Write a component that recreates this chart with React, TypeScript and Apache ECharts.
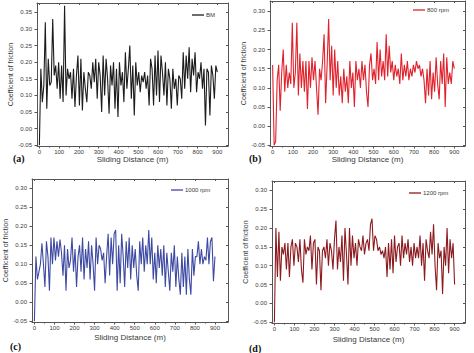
import React, { useEffect, useRef } from "react";
import * as echarts from "echarts";

// Sampling step along the sliding distance (m)
const STEP_M = 7.5;

// Coefficient of friction readings (one every STEP_M metres, 0..900 m)
const BM = [
  -0.05, 0.18, 0.08, 0.13, 0.32, 0.06, 0.21, 0.13, 0.14, 0.33,
  0.16, 0.19, 0.12, 0.2, 0.09, 0.19, 0.08, 0.37, 0.1, 0.18,
  0.15, 0.17, 0.09, 0.18, 0.065, 0.16, 0.22, 0.07, 0.21, 0.055,
  0.17, 0.12, 0.08, 0.17, 0.16, 0.12, 0.2, 0.14, 0.21, 0.09,
  0.2, 0.16, 0.05, 0.22, 0.1, 0.21, 0.15, 0.045, 0.19, 0.13,
  0.2, 0.06, 0.18, 0.035, 0.2, 0.13, 0.17, 0.08, 0.23, 0.12,
  0.18, 0.25, 0.09, 0.19, 0.04, 0.2, 0.13, 0.17, 0.11, 0.16,
  0.14, 0.17, 0.12, 0.16, 0.07, 0.21, 0.18, 0.07, 0.22, 0.1,
  0.235, 0.08, 0.22, 0.17, 0.1, 0.2, 0.07, 0.18, 0.15, 0.06,
  0.18, 0.12, 0.15, 0.07, 0.16, 0.15, 0.09, 0.23, 0.12, 0.22,
  0.15, 0.245, 0.11, 0.21, 0.16, 0.23, 0.11, 0.17, 0.15, 0.2,
  0.12, 0.18, 0.01, 0.18, 0.17, 0.04, 0.19, 0.16, 0.09, 0.19,
  0.17,
];

const RPM800 = [
  0.16, -0.05, -0.04, 0.12, 0.16, 0.04, 0.14, 0.2, 0.09, 0.16,
  0.1, 0.14, 0.11, 0.27, 0.1, 0.14, 0.27, 0.08, 0.19, 0.1,
  0.17, 0.09, 0.17, 0.045, 0.17, 0.1, 0.18, 0.12, 0.17, 0.1,
  0.03, 0.15, 0.12, 0.17, 0.24, 0.06, 0.16, 0.28, 0.12, 0.21,
  0.08, 0.2, 0.1, 0.17, 0.08, 0.13, 0.06, 0.15, 0.09, 0.13,
  0.06, 0.17, 0.1, 0.14, 0.05, 0.17, 0.12, 0.15, 0.1, 0.17,
  0.12, 0.16, 0.09, 0.05, 0.16, 0.19, 0.12, 0.15, 0.11, 0.22,
  0.12, 0.2, 0.13, 0.17, 0.12, 0.24, 0.13, 0.21, 0.14, 0.17,
  0.12, 0.16, 0.13, 0.15, 0.11, 0.19, 0.12, 0.16, 0.13, 0.17,
  0.12, 0.15, 0.13, 0.16, 0.14, 0.17, 0.15, 0.16, 0.13, 0.15,
  0.12, 0.06, 0.15, 0.08, 0.17, 0.07, 0.14, 0.09, 0.18, 0.11,
  0.07, 0.17, 0.11, 0.19, 0.05, 0.18, 0.11, 0.14, 0.11, 0.17,
  0.15,
];

const RPM1000 = [
  -0.05, 0.12, 0.06, 0.08, 0.1, 0.155, 0.1, 0.04, 0.16, 0.12,
  0.03, 0.17, 0.1, 0.17, 0.11, 0.16, 0.12, 0.165, 0.13, 0.07,
  0.15, 0.03, 0.14, 0.09, 0.11, 0.17, 0.08, 0.14, 0.04, 0.12,
  0.15, 0.08, 0.17, 0.06, 0.14, 0.09, 0.16, 0.06, 0.15, 0.1,
  0.03, 0.17, 0.1, 0.15, 0.14, 0.11, 0.13, 0.05, 0.12, 0.18,
  0.07, 0.17, 0.1, 0.18, 0.19, 0.03, 0.15, 0.05, 0.18, 0.12,
  0.04, 0.16, 0.09, 0.17, 0.06, 0.15, 0.09, 0.14, 0.07, 0.03,
  0.16, 0.1, 0.17, 0.08, 0.15, 0.1, 0.19, 0.1, 0.17, 0.06,
  0.13, 0.05, 0.15, 0.09, 0.14, 0.07, 0.15, 0.04, 0.13, 0.08,
  0.03, 0.13, 0.08, 0.15, 0.04, 0.12, 0.06, 0.02, 0.13, 0.04,
  0.12, 0.02, 0.14, 0.06, 0.02, 0.14, 0.07, 0.12, 0.12, 0.16,
  0.1, 0.14, 0.1, 0.12, 0.11, 0.17, 0.1, 0.16, 0.17, 0.055,
  0.12,
];

const RPM1200 = [
  -0.05, 0.2, 0.07, 0.19, 0.06, 0.15, 0.13, 0.16, 0.09, 0.16,
  0.07, 0.15, 0.17, 0.1, 0.16, 0.15, 0.11, 0.17, 0.09, 0.055,
  0.17, 0.13, 0.15, 0.14, 0.18, 0.09, 0.16, 0.17, 0.05, 0.15,
  0.14, 0.035, 0.14, 0.15, 0.12, 0.17, 0.1, 0.16, 0.14, 0.09,
  0.17, 0.22, 0.09, 0.15, 0.11, 0.18, 0.06, 0.2, 0.13, 0.05,
  0.2, 0.1, 0.18, 0.12, 0.16, 0.1, 0.17, 0.15, 0.14, 0.18,
  0.13, 0.16, 0.17, 0.14, 0.21, 0.225, 0.14, 0.18, 0.17, 0.14,
  0.15, 0.13, 0.14, 0.12, 0.15, 0.07, 0.16, 0.09, 0.17, 0.08,
  0.18, 0.11, 0.15, 0.16, 0.1, 0.18, 0.12, 0.16, 0.13, 0.17,
  0.11, 0.15, 0.1, 0.16, 0.12, 0.15, 0.12, 0.18, 0.1, 0.16,
  0.06, 0.17, 0.14, 0.12, 0.19, 0.13, 0.21, 0.1, 0.035, 0.16,
  0.12, 0.14, 0.025, 0.15, 0.1, 0.2, 0.08, 0.17, 0.12, 0.16,
  0.05,
];

const SERIES_NAMES = ["BM", "800 rpm", "1000 rpm", "1200 rpm"];
const PANEL_TAGS = ["(a)", "(b)", "(c)", "(d)"];
const X_TICKS = [0, 100, 200, 300, 400, 500, 600, 700, 800, 900];
const X_MINOR_TICKS = [50, 150, 250, 350, 450, 550, 650, 750, 850];
const Y_TICKS_A = [-0.05, 0, 0.05, 0.1, 0.15, 0.2, 0.25, 0.3, 0.35];
const Y_TICKS = [-0.05, 0, 0.05, 0.1, 0.15, 0.2, 0.25, 0.3];
const X_TITLE = "Sliding Distance (m)";
const Y_TITLE = "Coefficient of friction";

const COLORS = ["#1c1c1c", "#e0222c", "#3e4aa2", "#8c1b20"];

// legend: [line start x, centre y]
const LAYOUT = [
  { left: 37, top: 3, width: 191, height: 143, xMin: -12, xMax: 954, yMin: -0.052, yMax: 0.378, xGap: 8, legend: [192, 15], tag: [13, 159] },
  { left: 270, top: 1, width: 195, height: 145, xMin: -13, xMax: 953, yMin: -0.052, yMax: 0.327, xGap: 8, legend: [413, 10], tag: [249, 159] },
  { left: 32, top: 179, width: 196, height: 143, xMin: -12, xMax: 965, yMin: -0.052, yMax: 0.324, xGap: 11, legend: [171, 190], tag: [10, 347] },
  { left: 272, top: 181, width: 193, height: 142, xMin: -12, xMax: 952, yMin: -0.052, yMax: 0.325, xGap: 12, legend: [409, 193], tag: [249, 349] },
];

const AXIS_COLOR = "#555";
const LABEL_COLOR = "#3a3a3a";
const FONT = "Arial, 'Liberation Sans', sans-serif";

export default function App() {
  const ref = useRef<HTMLDivElement>(null);

  useEffect(() => {
    if (!ref.current) return;
    const chart = echarts.init(ref.current, null, { renderer: "svg" });
    const allData = [BM, RPM800, RPM1000, RPM1200];

    const grid: any[] = [];
    const xAxis: any[] = [];
    const yAxis: any[] = [];
    const series: any[] = [];
    const graphic: any[] = [];

    LAYOUT.forEach((L, p) => {
      grid.push({ left: L.left, top: L.top, width: L.width, height: L.height, containLabel: false });
      const yTicks = p === 0 ? Y_TICKS_A : Y_TICKS;
      xAxis.push({
        type: "value", gridIndex: p, position: "bottom", min: L.xMin, max: L.xMax,
        name: X_TITLE, nameLocation: "middle", nameGap: L.xGap,
        nameTextStyle: { fontSize: 8, color: LABEL_COLOR, fontFamily: FONT },
        axisLine: { show: true, onZero: false, lineStyle: { color: AXIS_COLOR, width: 1 } },
        axisTick: { show: true, inside: false, length: 2.5, customValues: X_TICKS, lineStyle: { color: AXIS_COLOR } },
        axisLabel: { show: true, margin: 3, fontSize: 6, color: LABEL_COLOR, fontFamily: FONT, customValues: X_TICKS },
        splitLine: { show: false },
      });
      xAxis.push({
        type: "value", gridIndex: p, position: "bottom", min: L.xMin, max: L.xMax,
        axisLine: { show: false, onZero: false },
        axisTick: { show: true, inside: false, length: 1.5, customValues: X_MINOR_TICKS, lineStyle: { color: AXIS_COLOR } },
        axisLabel: { show: false },
        splitLine: { show: false },
      });
      xAxis.push({
        type: "value", gridIndex: p, position: "top", min: L.xMin, max: L.xMax,
        axisLine: { show: true, onZero: false, lineStyle: { color: AXIS_COLOR, width: 1 } },
        axisTick: { show: true, inside: true, length: 2, customValues: X_TICKS, lineStyle: { color: AXIS_COLOR } },
        axisLabel: { show: false },
        splitLine: { show: false },
      });
      yAxis.push({
        type: "value", gridIndex: p, position: "left", min: L.yMin, max: L.yMax,
        name: Y_TITLE, nameLocation: "middle", nameGap: 17,
        nameTextStyle: { fontSize: 7, color: LABEL_COLOR, fontFamily: FONT },
        axisLine: { show: true, onZero: false, lineStyle: { color: AXIS_COLOR, width: 1 } },
        axisTick: { show: true, inside: false, length: 2.5, customValues: yTicks, lineStyle: { color: AXIS_COLOR } },
        axisLabel: {
          show: true, margin: 5, fontSize: 6, color: LABEL_COLOR, fontFamily: FONT, customValues: yTicks,
          formatter: (v: number) => v.toFixed(2),
        },
        splitLine: { show: false },
      });
      yAxis.push({
        type: "value", gridIndex: p, position: "right", min: L.yMin, max: L.yMax,
        axisLine: { show: true, onZero: false, lineStyle: { color: AXIS_COLOR, width: 1 } },
        axisTick: { show: true, inside: true, length: 2, customValues: yTicks, lineStyle: { color: AXIS_COLOR } },
        axisLabel: { show: false },
        splitLine: { show: false },
      });
      series.push({
        name: SERIES_NAMES[p],
        type: "line",
        xAxisIndex: p * 3,
        yAxisIndex: p * 2,
        showSymbol: false,
        symbol: "none",
        lineStyle: { color: COLORS[p], width: 1.1 },
        itemStyle: { color: COLORS[p] },
        data: allData[p].map((v, i) => [i * STEP_M, v]),
      });
      // legend sample line + label
      graphic.push({
        type: "line",
        shape: { x1: L.legend[0], y1: L.legend[1], x2: L.legend[0] + 12, y2: L.legend[1] },
        style: { stroke: COLORS[p], lineWidth: 1.3 },
      });
      graphic.push({
        type: "text", x: L.legend[0] + 14, y: L.legend[1],
        style: { text: SERIES_NAMES[p], fontSize: 6, fill: LABEL_COLOR, fontFamily: FONT, verticalAlign: "middle", align: "left" },
      });
      graphic.push({
        type: "text", left: L.tag[0], top: L.tag[1] - 6,
        style: { text: PANEL_TAGS[p], fontSize: 10, fontWeight: "bold", fontFamily: "'Liberation Serif', 'Times New Roman', serif", fill: "#111" },
      });
    });

    chart.setOption({
      animation: false,
      backgroundColor: "#ffffff",
      grid, xAxis, yAxis, series, graphic,
    });
    return () => chart.dispose();
  }, []);

  return <div ref={ref} style={{ position: "fixed", left: 0, top: 0, width: 474, height: 353 }} />;
}
